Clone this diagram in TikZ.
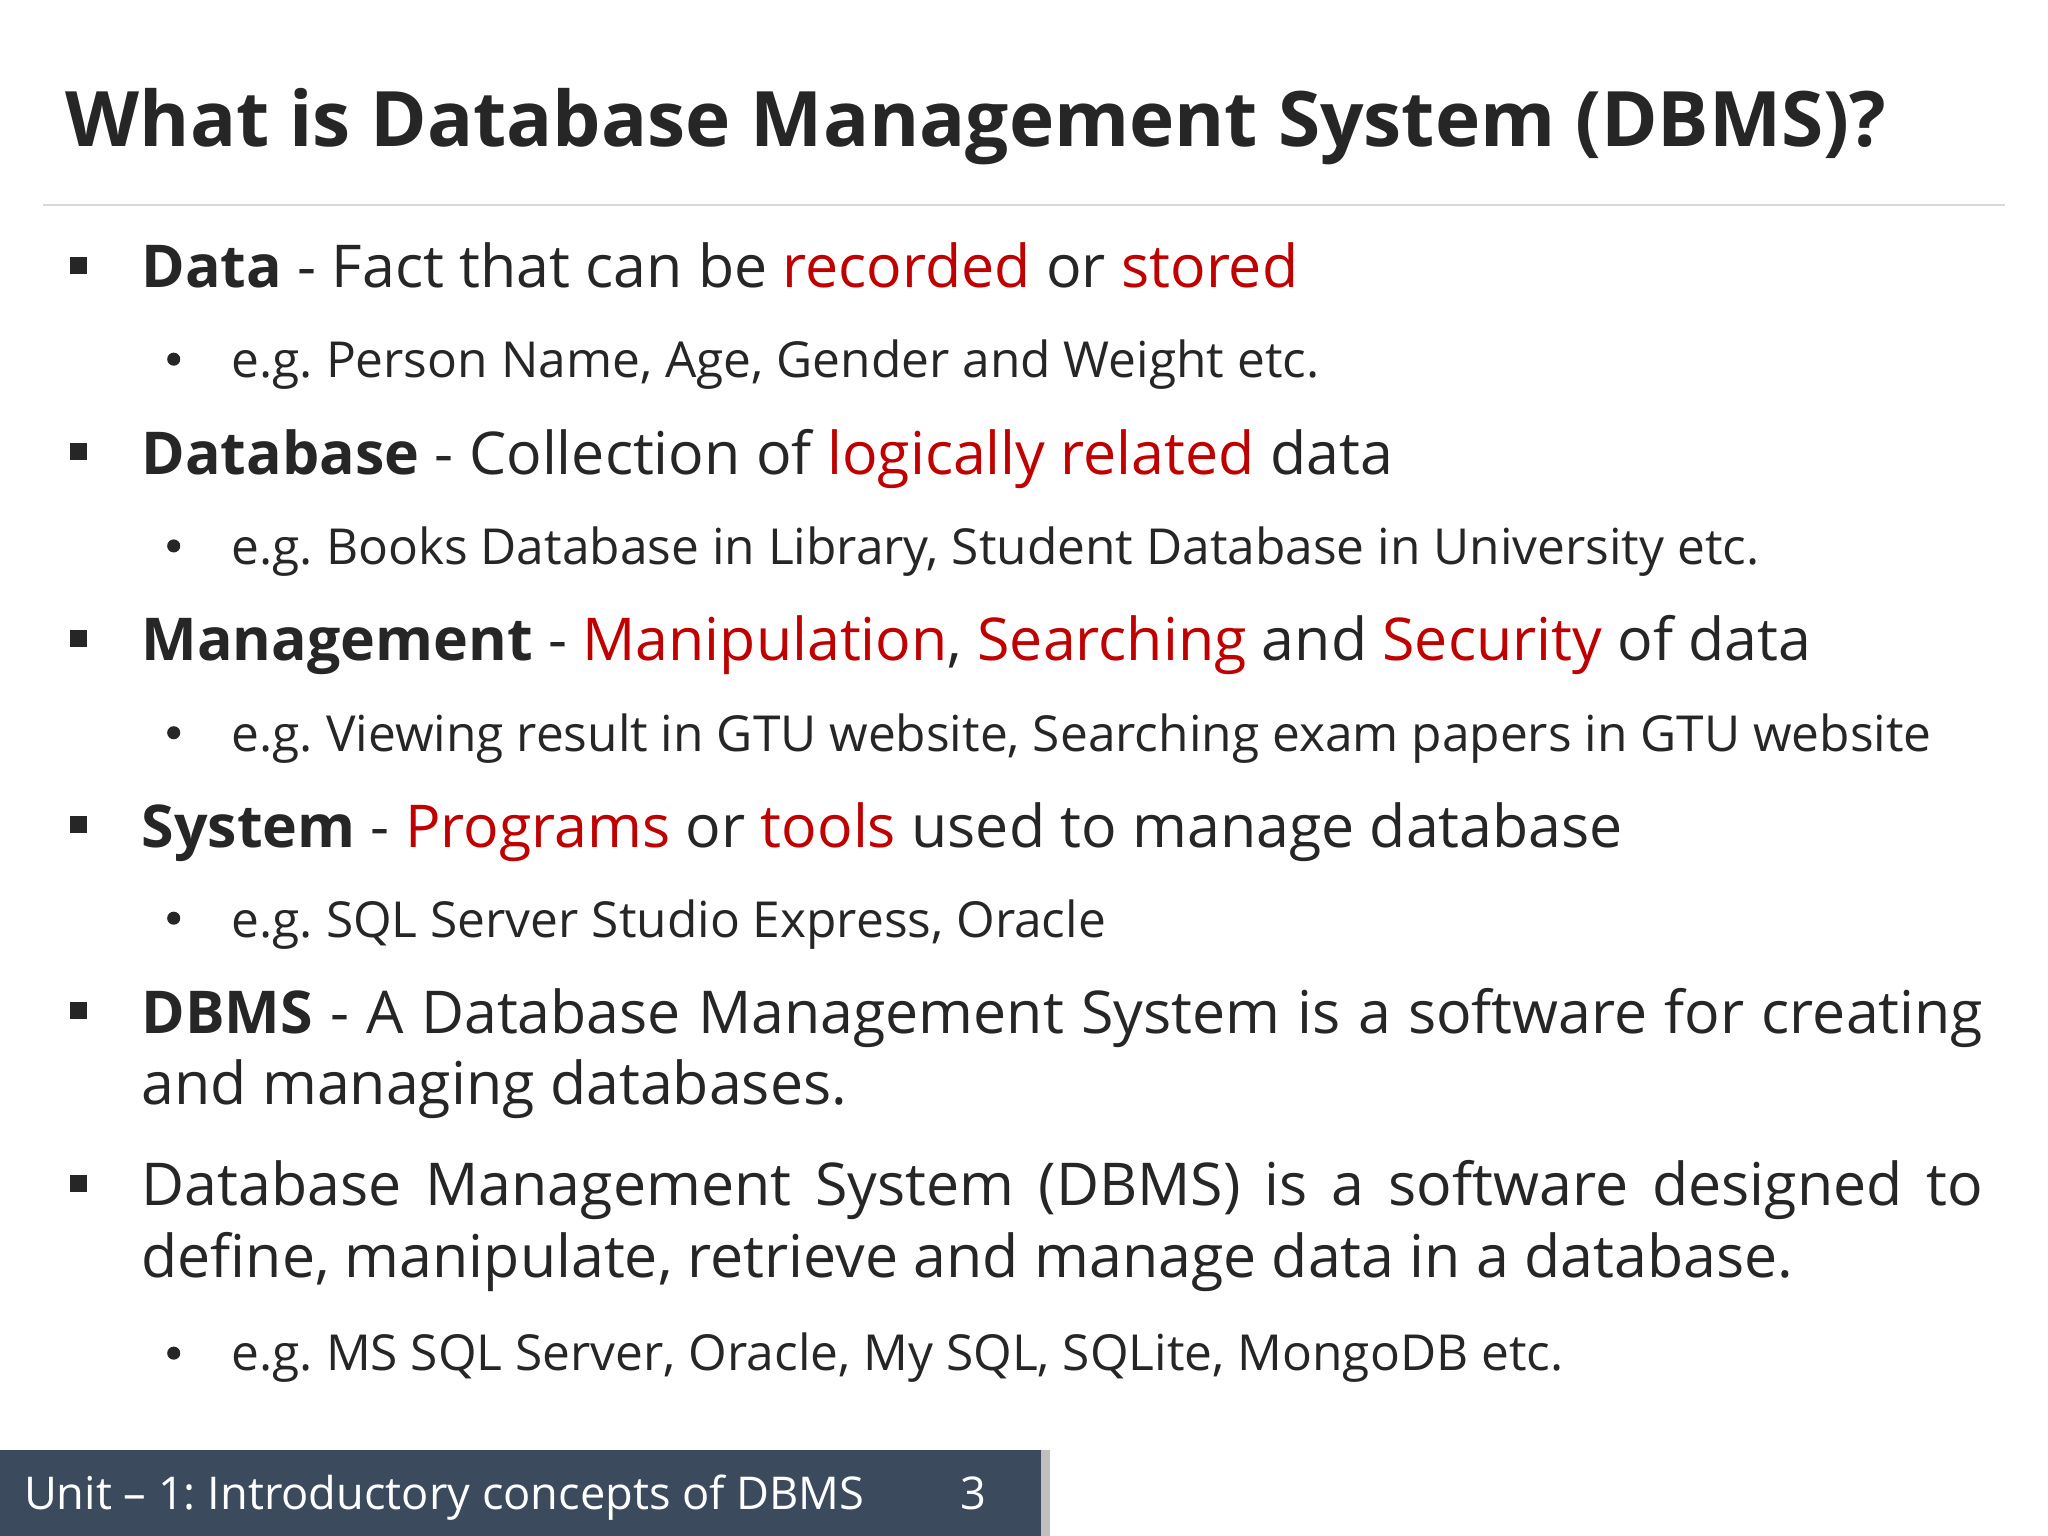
\documentclass[tikz,border=0pt]{standalone}
\usepackage{fontspec}
\setmainfont{Open Sans}
\frenchspacing
\definecolor{txt}{HTML}{262626}
\definecolor{rd}{HTML}{C00000}
\definecolor{foot}{HTML}{3B4A5C}
\newcommand{\R}[1]{\textcolor{rd}{#1}}
\begin{document}
\begin{tikzpicture}[x=0.5pt,y=-0.5pt,
  main/.style={anchor=base west,inner sep=0,text=txt,font=\fontsize{22.6}{27}\selectfont},
  sub/.style={anchor=base west,inner sep=0,text=txt,font=\fontsize{19}{23}\selectfont},
  sq/.style={fill=txt,minimum size=6.5pt,inner sep=0},
  dot/.style={circle,fill=txt,minimum size=5pt,inner sep=0}]
\fill[white] (0,0) rectangle (1568,1176);
\node[anchor=base west,inner sep=0,text=txt,font=\fontsize{29.3}{34}\bfseries\selectfont] (title) at (50,112) {What is Database Management System (DBMS)?};
\draw[black!15,line width=1pt] (33,157) -- (1535,157);
% bullets
\foreach \y/\n in {203/a,346/b,489/c,631/d,774/e,906/f} \node[sq] (s\n) at (60,\y) {};
\foreach \y/\n in {275/a,418/b,561/c,703/d,1036/f} \node[dot] (d\n) at (133,\y) {};
\node[main] (t1) at (108,220) {\textbf{Data} - Fact that can be \R{recorded} or \R{stored}};
\node[sub] (u1) at (177,289) {e.g. Person Name, Age, Gender and Weight etc.};
\node[main] (t2) at (108,363) {\textbf{Database} - Collection of \R{logically related} data};
\node[sub] (u2) at (177,432) {e.g. Books Database in Library, Student Database in University etc.};
\node[main] (t3) at (108,506) {\textbf{Management} - \R{Manipulation}, \R{Searching} and \R{Security} of data};
\node[sub] (u3) at (177,575) {e.g. Viewing result in GTU website, Searching exam papers in GTU website};
\node[main] (t4) at (108,649) {\textbf{System} - \R{Programs} or \R{tools} used to manage database};
\node[sub] (u4) at (177,718) {e.g. SQL Server Studio Express, Oracle};
\node[main] (t5) at (108,791) {\makebox[705pt][s]{\textbf{DBMS} - A Database Management System is a software for creating}};
\node[main] (t5b) at (108,846) {and managing databases.};
\node[main] (t6) at (108,923) {\makebox[705pt][s]{Database Management System (DBMS) is a software designed to}};
\node[main] (t6b) at (108,978) {define, manipulate, retrieve and manage data in a database.};
\node[sub] (u6) at (177,1049) {e.g. MS SQL Server, Oracle, My SQL, SQLite, MongoDB etc.};
% footer
\fill[black!25] (797,1110) rectangle (804,1176);
\fill[foot] (0,1110) rectangle (797,1176);
\node[anchor=base west,inner sep=0,text=white,font=\fontsize{17.3}{20}\selectfont] (f1) at (18,1156) {Unit – 1: Introductory concepts of DBMS};
\node[anchor=base west,inner sep=0,text=white,font=\fontsize{17.3}{20}\selectfont] (f2) at (735,1156) {3};
\end{tikzpicture}
\end{document}
